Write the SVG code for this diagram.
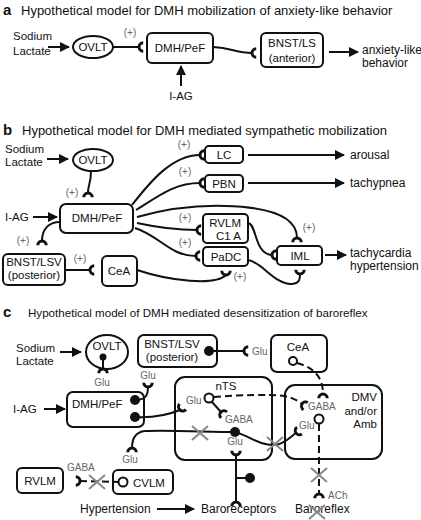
<svg xmlns="http://www.w3.org/2000/svg" xmlns:xlink="http://www.w3.org/1999/xlink" width="421" height="520" viewBox="0 0 421 520">
<style>
text{font-family:"Liberation Sans",Arial,sans-serif;fill:#111}
.ttl{font-size:13px}
.pl{font-size:15px;font-weight:bold}
.n{font-size:11.5px}
.t{font-size:12px}
.g{font-size:10px;fill:#666}
.c{text-anchor:middle}
.e{text-anchor:end}
.box{fill:#fff;stroke:#111;stroke-width:2}
.ln{fill:none;stroke:#111;stroke-width:2}
.ds{fill:none;stroke:#111;stroke-width:2;stroke-dasharray:7 4}
.ar{fill:none;stroke:#111;stroke-width:2;marker-end:url(#ah)}
.fc{fill:#111}
.oc{fill:#fff;stroke:#111;stroke-width:2}
</style>
<defs>
<marker id="ah" viewBox="0 0 10 10" refX="9" refY="5" markerWidth="5" markerHeight="5" orient="auto" markerUnits="strokeWidth"><path d="M0,0 L10,5 L0,10 z" fill="#111"/></marker>
<path id="cup" d="M4.2,-4.2 A4.2,4.2 0 0 0 4.2,4.2" fill="none" stroke="#111" stroke-width="3"/>
<path id="x" d="M-8,-7 L8,7 M-8,7 L8,-7" fill="none" stroke="#888" stroke-width="2"/>
</defs>

<!-- Panel a -->
<g id="title-a"><text class="pl" x="3" y="15">a</text><text class="ttl" x="21" y="15">Hypothetical model for DMH mobilization of anxiety-like behavior</text></g>
<g id="a-sodium"><text class="n" x="13" y="40">Sodium</text><text class="n" x="13" y="55">Lactate</text></g>
<g id="a-ovlt"><ellipse class="box" cx="93" cy="47" rx="20" ry="11"/><text class="n c" x="93" y="51">OVLT</text></g>
<g id="a-dmh"><rect class="box" x="147" y="33" width="66" height="30" rx="5"/><text class="n c" x="180" y="52">DMH/PeF</text></g>
<g id="a-iag"><text class="n c" x="181" y="100">I-AG</text></g>
<g id="a-bnst"><rect class="box" x="261" y="33" width="62" height="34" rx="5"/><text class="n c" x="292" y="47">BNST/LS</text><text class="n c" x="292" y="62">(anterior)</text></g>
<g id="a-anx"><text class="t" x="362" y="54">anxiety-like</text><text class="t" x="362" y="67">behavior</text></g>
<g id="a-connectors">
<line class="ar" x1="48" y1="47" x2="69" y2="47"/>
<line class="ln" x1="113" y1="47" x2="139" y2="47"/>
<use href="#cup" transform="translate(139,47)"/>
<text class="g c" x="130" y="36">(+)</text>
<line class="ar" x1="181" y1="86" x2="181" y2="66"/>
<path class="ln" d="M213,47 C232,48 236,53 252,53"/>
<use href="#cup" transform="translate(252,53)"/>
<line class="ar" x1="329" y1="52" x2="358" y2="52"/>
</g>

<!-- Panel b -->
<g id="title-b"><text class="pl" x="3" y="135">b</text><text class="ttl" x="22" y="135">Hypothetical model for DMH mediated sympathetic mobilization</text></g>
<g id="b-sodium"><text class="n" x="5" y="153">Sodium</text><text class="n" x="5" y="166">Lactate</text></g>
<g id="b-ovlt"><ellipse class="box" cx="93" cy="160" rx="20" ry="11"/><text class="n c" x="93" y="164">OVLT</text></g>
<g id="b-iag"><text class="n" x="5" y="221">I-AG</text></g>
<g id="b-dmh"><rect class="box" x="60" y="204" width="73" height="29" rx="6"/><text class="n c" x="97" y="222">DMH/PeF</text></g>
<g id="b-lc"><rect class="box" x="205" y="146" width="38" height="17" rx="4"/><text class="n c" x="224" y="159">LC</text></g>
<g id="b-pbn"><rect class="box" x="205" y="175" width="38" height="17" rx="4"/><text class="n c" x="224" y="188">PBN</text></g>
<g id="b-rvlm"><rect class="box" x="203" y="214" width="45" height="29" rx="4"/><text class="n e" x="241" y="227">RVLM</text><text class="n e" x="241" y="240">C1 A</text></g>
<g id="b-padc"><rect class="box" x="203" y="247" width="45" height="19" rx="4"/><text class="n c" x="226" y="261">PaDC</text></g>
<g id="b-iml"><rect class="box" x="277" y="246" width="45" height="19" rx="4"/><text class="n c" x="300" y="260">IML</text></g>
<g id="b-bnst"><rect class="box" x="3" y="254" width="62" height="31" rx="5"/><text class="n c" x="34" y="266">BNST/LSV</text><text class="n c" x="34" y="279">(posterior)</text></g>
<g id="b-cea"><rect class="box" x="102" y="256" width="35" height="30" rx="5"/><text class="n c" x="119" y="275">CeA</text></g>
<g id="b-outputs"><text class="t" x="350" y="159">arousal</text><text class="t" x="350" y="187">tachypnea</text><text class="t" x="350" y="257">tachycardia</text><text class="t" x="350" y="270">hypertension</text></g>
<g id="b-connectors">
<line class="ar" x1="47" y1="159" x2="68" y2="159"/>
<line class="ar" x1="33" y1="217" x2="57" y2="217"/>
<path class="ln" d="M91,171 C91,184 88,184 88,193"/>
<use href="#cup" transform="translate(88,193) rotate(90)"/>
<text class="g c" x="72" y="196">(+)</text>
<path class="ln" d="M132,205 C150,182 172,155 200,155"/>
<use href="#cup" transform="translate(200,155)"/>
<text class="g c" x="184" y="148">(+)</text>
<path class="ln" d="M136,210 C160,195 175,183 200,183"/>
<use href="#cup" transform="translate(200,183)"/>
<text class="g c" x="185" y="175">(+)</text>
<path class="ln" d="M137,217 C170,208 195,205 225,206 C265,207 297,215 297,238"/>
<use href="#cup" transform="translate(297,238) rotate(90)"/>
<text class="g c" x="309" y="231">(+)</text>
<path class="ln" d="M137,223 C160,228 178,230 197,230"/>
<use href="#cup" transform="translate(197,230)"/>
<text class="g c" x="185" y="221">(+)</text>
<path class="ln" d="M135,228 C160,236 170,256 196,256"/>
<use href="#cup" transform="translate(196,256)"/>
<text class="g c" x="185" y="246">(+)</text>
<line class="ar" x1="248" y1="155" x2="344" y2="155"/>
<line class="ar" x1="248" y1="183" x2="344" y2="183"/>
<path class="ln" d="M248,223 C257,224 254,254 272,255"/>
<use href="#cup" transform="translate(272,255)"/>
<path class="ln" d="M248,260 C262,262 275,285 292,284 C300,283 300,279 300,274"/>
<use href="#cup" transform="translate(300,274) rotate(-90)"/>
<path class="ln" d="M137,270 C170,281 215,286 226,275"/>
<use href="#cup" transform="translate(226,275) rotate(-90)"/>
<text class="g c" x="240" y="280">(+)</text>
<line class="ar" x1="325" y1="255" x2="346" y2="255"/>
<path class="ln" d="M60,222 C48,222 42,230 42,241"/>
<use href="#cup" transform="translate(42,241) rotate(90)"/>
<text class="g c" x="23" y="244">(+)</text>
<line class="ln" x1="65" y1="270" x2="90" y2="270"/>
<use href="#cup" transform="translate(90,270)"/>
<text class="g c" x="80" y="262">(+)</text>
</g>

<!-- Panel c -->
<g id="title-c"><text class="pl" x="3" y="317">c</text><text class="ttl" x="28" y="317" style="font-size:11.6px">Hypothetical model of DMH mediated desensitization of baroreflex</text></g>
<g id="c-sodium"><text class="n" x="16" y="352">Sodium</text><text class="n" x="16" y="365">Lactate</text></g>
<g id="c-ovlt"><ellipse class="box" cx="107" cy="352" rx="21" ry="17"/><text class="n c" x="107" y="350">OVLT</text><circle class="fc" cx="103" cy="357" r="3.5"/></g>
<g id="c-iag"><text class="n" x="13" y="413">I-AG</text></g>
<g id="c-dmh"><rect class="box" x="67" y="392" width="77" height="35" rx="6"/><text class="n" x="72" y="408">DMH/PeF</text><circle class="fc" cx="135" cy="400" r="5"/><circle class="fc" cx="135" cy="417" r="5"/></g>
<g id="c-bnst"><rect class="box" x="138" y="335" width="79" height="32" rx="6"/><text class="n c" x="172" y="348">BNST/LSV</text><text class="n c" x="172" y="361">(posterior)</text><circle class="fc" cx="209" cy="351" r="5"/></g>
<g id="c-cea"><rect class="box" x="271" y="335" width="56" height="37" rx="6"/><text class="n c" x="298" y="351">CeA</text><circle class="oc" cx="293" cy="361" r="4"/></g>
<g id="c-nts"><rect class="box" x="175" y="377" width="97" height="83" rx="10" fill="none"/><text class="n c" x="226" y="390">nTS</text></g>
<g id="c-dmv"><rect class="box" x="285" y="385" width="97" height="74" rx="10"/><text class="n e" x="377" y="401">DMV</text><text class="n e" x="377" y="415">and/or</text><text class="n e" x="377" y="428">Amb</text></g>
<g id="c-rvlm"><rect class="box" x="17" y="468" width="46" height="25" rx="5"/><text class="n c" x="40" y="485">RVLM</text></g>
<g id="c-cvlm"><rect class="box" x="113" y="470" width="60" height="24" rx="5"/><text class="n" x="133" y="487">CVLM</text></g>
<g id="c-bottom"><text class="t" x="80" y="513">Hypertension</text><text class="t" x="201" y="513">Baroreceptors</text><text class="t" x="295" y="513">Baroreflex</text></g>
<g id="c-connectors">
<line class="ar" x1="60" y1="352" x2="81" y2="352"/>
<line class="ar" x1="44" y1="409" x2="65" y2="409"/>
<line class="ln" x1="103" y1="357" x2="103" y2="369"/>
<use href="#cup" transform="translate(103,369) rotate(90)"/>
<text class="g c" x="102" y="386">Glu</text>
<path class="ln" d="M135,400 C145,400 148,396 148,387"/>
<use href="#cup" transform="translate(148,387) rotate(-90)"/>
<text class="g c" x="148" y="379">Glu</text>
<path class="ln" d="M135,417 C155,418 168,415 180,410"/>
<use href="#cup" transform="translate(180,410) rotate(-50)"/>
<text class="g" x="186" y="404">Glu</text>
<line class="ln" x1="209" y1="351" x2="244" y2="351"/>
<use href="#cup" transform="translate(244,351)"/>
<text class="g" x="252" y="355">Glu</text>
<path class="ds" d="M297,363 C315,368 323,378 323,394"/>
<use href="#cup" transform="translate(323,394) rotate(90)"/>
<circle class="oc" cx="209" cy="398" r="4.5"/>
<path class="ds" d="M214,397 C240,395 268,394 284,396 C294,398 298,401 302,404"/>
<use href="#cup" transform="translate(302,404) rotate(30)"/>
<text class="g" x="308" y="410">GABA</text>
<line class="ln" x1="212" y1="402" x2="221" y2="412"/>
<use href="#cup" transform="translate(221,412) rotate(45)"/>
<text class="g" x="225" y="423">GABA</text>
<path class="ln" d="M235,432 C210,432 170,430 145,431 C135,432 132,440 132,448"/>
<use href="#cup" transform="translate(132,448) rotate(90)"/>
<text class="g c" x="130" y="463">Glu</text>
<path class="ln" d="M235,432 C250,436 260,446 275,445 C285,444 290,437 296,433"/>
<use href="#cup" transform="translate(296,433) rotate(-35)"/>
<text class="g" x="299" y="429">Glu</text>
<circle class="fc" cx="235" cy="432" r="5"/>
<text class="g c" x="235" y="445">Glu</text>
<line class="ln" x1="236" y1="455" x2="236" y2="502"/>
<use href="#cup" transform="translate(236,455) rotate(-90)"/>
<use href="#cup" transform="translate(236,502) rotate(90)"/>
<line class="ln" x1="236" y1="478" x2="250" y2="478"/>
<circle class="fc" cx="250" cy="478" r="5"/>
<line class="ds" x1="319" y1="424" x2="319" y2="494"/>
<use href="#cup" transform="translate(319,494) rotate(90)"/>
<circle class="oc" cx="319" cy="419" r="4.5"/>
<text class="g" x="328" y="499">ACh</text>
<line class="ar" x1="157" y1="509" x2="194" y2="509"/>
<text class="g" x="67" y="471">GABA</text>
<use href="#cup" transform="translate(80,481) rotate(180)"/>
<line class="ds" x1="80" y1="481" x2="119" y2="482"/>
<circle class="oc" cx="123" cy="482" r="4.5"/>
<use href="#x" transform="translate(200,433)"/>
<use href="#x" transform="translate(275,444)"/>
<use href="#x" transform="translate(319,475)"/>
<use href="#x" transform="translate(97,482)"/>
<use href="#x" transform="translate(317,512)"/>
</g>
</svg>
